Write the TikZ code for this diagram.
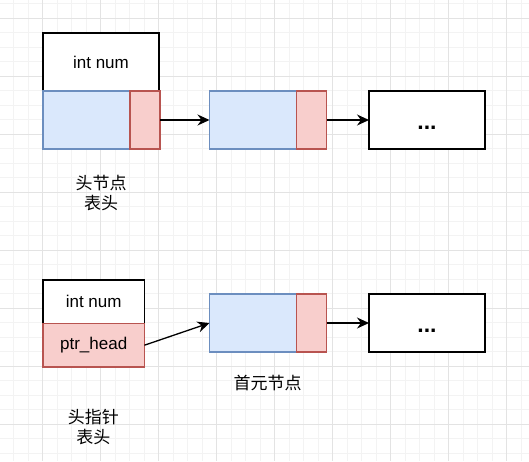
\documentclass[tikz,border=0pt]{standalone}
\usepackage{fontspec}
\setmainfont{Liberation Sans}
\newfontfamily\cjk{Noto Sans CJK SC}
\usetikzlibrary{positioning,arrows.meta}
\definecolor{lblue}{HTML}{DAE8FC}
\definecolor{bblue}{HTML}{6C8EBF}
\definecolor{lred}{HTML}{F8CECC}
\definecolor{bred}{HTML}{B85450}
\definecolor{gminor}{HTML}{F3F3F3}
\definecolor{gmajor}{HTML}{E3E3E3}
\tikzset{
  base/.style={rectangle,line width=1.4pt,inner sep=0pt,outer sep=0pt,
    font=\fontsize{17}{20}\selectfont},
  numbox/.style={base,draw=black,fill=white},
  datbox/.style={base,draw=bblue,fill=lblue,minimum width=87pt,minimum height=58pt},
  ptrbox/.style={base,draw=bred,fill=lred,minimum width=30pt,minimum height=58pt},
  endbox/.style={base,draw=black,fill=white,minimum width=116pt,minimum height=58pt,
    font=\bfseries\fontsize{23}{26}\selectfont,text height=19pt,text depth=0pt},
  lab/.style={align=center,font=\cjk\fontsize{17}{20}\selectfont},
  ar/.style={-{Stealth[length=12pt,width=11pt]},line width=1.3pt},
}

\begin{document}
\begin{tikzpicture}[x=1pt,y=-1pt]
% ---- background grid ----
\fill[white] (0,0) rectangle (529,461);
\begin{scope}
\clip (0,0) rectangle (529,461);
\foreach \k in {-3,...,36}{
  \draw[gminor,line width=0.8pt] ({42.7+14.5*\k},0) -- ({42.7+14.5*\k},461);
  \draw[gminor,line width=0.8pt] (0,{18.3+14.5*\k}) -- (529,{18.3+14.5*\k});}
\foreach \k in {-1,...,9}{
  \draw[gmajor,line width=0.8pt] ({42.7+58*\k},0) -- ({42.7+58*\k},461);
  \draw[gmajor,line width=0.8pt] (0,{18.3+58*\k}) -- (529,{18.3+58*\k});}
\end{scope}

% ---- top row: head node ----
\node[numbox,minimum width=116pt,minimum height=58pt] (n1) at (101,62) {int num};
\node[datbox,below=0pt of n1.south west,anchor=north west] (d1) {};
\node[ptrbox,right=0pt of d1] (p1) {};
\node[lab] (l1) at (101,193) {头节点\\表头};
\node[datbox] (d2) at (253,120) {};
\node[ptrbox,right=0pt of d2] (p2) {};
\node[endbox] (e1) at (427,120) {...};
\draw[ar](p1)--(d2);
\draw[ar](p2)--(e1);

% ---- bottom row: head pointer ----
\node[numbox,minimum width=101.5pt,minimum height=43.5pt] (n2) at (93.7,301.7) {int num};
\node[base,draw=bred,fill=lred,minimum width=101.5pt,minimum height=43.5pt,
  below=0pt of n2] (h2) {ptr\_head};
\node[lab] (l3) at (93.3,426.7) {头指针\\表头};
\node[datbox] (d3) at (253,323) {};
\node[ptrbox,right=0pt of d3] (p3) {};
\node[lab] (l2) at (267.5,383) {首元节点};
\node[endbox] (e2) at (427,323) {...};
\draw[ar](h2.east)--(d3.west);
\draw[ar](p3)--(e2);
\end{tikzpicture}
\end{document}
